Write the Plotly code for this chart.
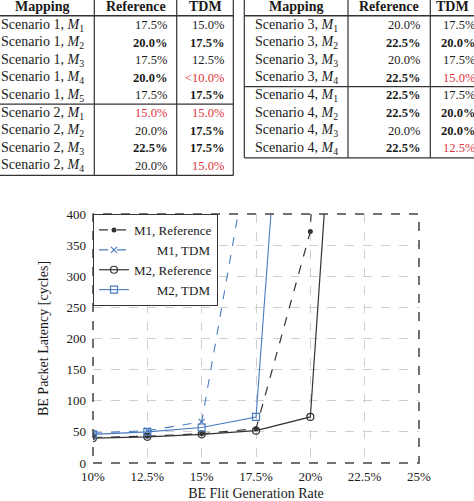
import plotly.graph_objects as go

# ---------------- data ----------------
rates = [10, 12.5, 15, 17.5, 20, 22.5, 25]
rate_labels = ["10%", "12.5%", "15%", "17.5%", "20%", "22.5%", "25%"]

m1_ref_x = [10, 12.5, 15, 17.5, 20, 22.5]
m1_ref_y = [41, 43, 47, 55, 372, 2500]
m1_tdm_x = [10, 12.5, 15, 17.5]
m1_tdm_y = [48, 52, 66, 565]
m2_ref_x = [10, 12.5, 15, 17.5, 20, 22.5]
m2_ref_y = [40, 42, 46, 52, 74, 1350]
m2_tdm_x = [10, 12.5, 15, 17.5, 20]
m2_tdm_y = [46, 50, 57, 74, 1260]

y_ticks = [0, 50, 100, 150, 200, 250, 300, 350, 400]

table_headers = ["Mapping", "Reference", "TDM"]

left_scen = [1, 1, 1, 1, 1, 2, 2, 2, 2]
left_map = [1, 2, 3, 4, 5, 1, 2, 3, 4]
left_ref = ["17.5%", "20.0%", "17.5%", "20.0%", "17.5%", "15.0%", "20.0%", "22.5%", "20.0%"]
left_ref_emph = ["", "b", "", "b", "", "r", "", "b", ""]
left_tdm = ["15.0%", "17.5%", "12.5%", "&lt;10.0%", "17.5%", "15.0%", "17.5%", "17.5%", "15.0%"]
left_tdm_emph = ["", "b", "", "r", "b", "r", "b", "b", "r"]

right_scen = [3, 3, 3, 3, 4, 4, 4, 4]
right_map = [1, 2, 3, 4, 1, 2, 3, 4]
right_ref = ["20.0%", "22.5%", "20.0%", "22.5%", "22.5%", "22.5%", "20.0%", "22.5%"]
right_ref_emph = ["", "b", "", "b", "b", "b", "", "b"]
right_tdm = ["17.5%", "20.0%", "17.5%", "15.0%", "17.5%", "20.0%", "20.0%", "12.5%"]
right_tdm_emph = ["", "b", "", "r", "", "b", "b", "r"]

# ---------------- layout helpers ----------------
W, H = 474, 501
L, R, T, B = 93, 55, 214, 38
PW, PH = W - L - R, H - T - B
FONT = "Liberation Serif"
RED = "#e2323c"
BLUE = "#4a7cc0"
DARK = "#333333"
TXT = "#1a1a1a"


def fx(x):
    return (x - L) / PW


def fy(y):
    return (H - B - y) / PH


fig = go.Figure()

fig.add_trace(go.Scatter(
    x=m1_ref_x, y=m1_ref_y, name="M1, Reference", mode="lines+markers",
    line=dict(color=DARK, width=1.2, dash="dash"),
    marker=dict(symbol="circle", size=5, color=DARK)))
fig.add_trace(go.Scatter(
    x=m1_tdm_x, y=m1_tdm_y, name="\u00a0" * 7 + "M1, TDM", mode="lines+markers",
    line=dict(color=BLUE, width=1.1, dash="dash"),
    marker=dict(symbol="x-thin", size=6, line=dict(color=BLUE, width=1.2))))
fig.add_trace(go.Scatter(
    x=m2_ref_x, y=m2_ref_y, name="M2, Reference", mode="lines+markers",
    line=dict(color=DARK, width=1.2),
    marker=dict(symbol="circle-open", size=7, color=DARK, line=dict(width=1.2))))
fig.add_trace(go.Scatter(
    x=m2_tdm_x, y=m2_tdm_y, name="\u00a0" * 7 + "M2, TDM", mode="lines+markers",
    line=dict(color=BLUE, width=1.1),
    marker=dict(symbol="square-open", size=7, color=BLUE, line=dict(width=1.2))))

shapes = []
annotations = []

# plot frame (dashed)
shapes.append(dict(type="rect", xref="paper", yref="paper", x0=0, x1=1, y0=0, y1=1,
                   line=dict(color="#444444", width=1.5, dash="dash"), layer="above"))


def line_px(x0, y0, x1, y1, w=1.2):
    shapes.append(dict(type="line", xref="paper", yref="paper",
                       x0=fx(x0), x1=fx(x1), y0=fy(y0), y1=fy(y1),
                       line=dict(color=DARK, width=w)))


def text_px(x, y, s, anchor, bold=False, color=TXT, size=14):
    if bold:
        s = "<b>" + s + "</b>"
    annotations.append(dict(xref="paper", yref="paper", x=fx(x), y=fy(y), text=s,
                            showarrow=False, xanchor=anchor, yanchor="middle",
                            borderpad=0, font=dict(family=FONT, size=size, color=color)))


def draw_table(x_left, x_div1, x_div2, x_right, sep_after, scen, maps, refs, ref_em,
               tdms, tdm_em):
    row0, dy = 25.0, 17.6
    n = len(scen)
    y_head_line = 15.7
    y_bottom = row0 + dy * (n - 1) + 9.6
    y_sep = row0 + dy * (sep_after - 0.5)
    for xv in (x_left, x_div1, x_div2, x_right):
        line_px(xv, -5, xv, y_bottom)
    line_px(x_left, y_head_line, x_right, y_head_line, 1.4)
    line_px(x_left, y_sep, x_right, y_sep)
    line_px(x_left, y_bottom, x_right, y_bottom)
    # headers
    text_px((x_left + x_div1) / 2, 6.5, table_headers[0], "center", bold=True)
    text_px((x_div1 + x_div2) / 2, 6.5, table_headers[1], "center", bold=True)
    text_px((x_div2 + x_right) / 2 if x_right < W else x_div2 + 22, 6.5,
            table_headers[2], "center", bold=True)
    for i in range(n):
        y = row0 + dy * i
        text_px(x_left + 9.5, y, "Scenario %d, <i>M</i><sub>%d</sub>" % (scen[i], maps[i]), "left")
        text_px(x_div2 - 9, y, refs[i], "right", bold=(ref_em[i] == "b"),
                color=RED if ref_em[i] == "r" else TXT, size=12.5)
        text_px(x_right - 8.5, y, tdms[i], "right", bold=(tdm_em[i] == "b"),
                color=RED if tdm_em[i] == "r" else TXT, size=12.5)


draw_table(-9.5, 94.3, 176.7, 233.3, 5, left_scen, left_map, left_ref, left_ref_emph,
           left_tdm, left_tdm_emph)
draw_table(244.3, 348.0, 430.3, 484.0, 4, right_scen, right_map, right_ref, right_ref_emph,
           right_tdm, right_tdm_emph)

fig.update_layout(
    width=W, height=H,
    margin=dict(l=L, r=R, t=T, b=B, pad=0, autoexpand=False),
    paper_bgcolor="white", plot_bgcolor="white",
    font=dict(family=FONT, size=13, color=TXT),
    showlegend=True,
    legend=dict(x=0, y=1, xanchor="left", yanchor="top", bgcolor="white",
                bordercolor=DARK, borderwidth=1, itemwidth=30,
                font=dict(family=FONT, size=13, color=TXT), tracegroupgap=0),
    shapes=shapes, annotations=annotations,
    xaxis=dict(range=[10, 25], tickvals=rates, ticktext=rate_labels, automargin=False,
               showgrid=True, gridcolor="#cfcfcf", griddash="dash", gridwidth=1,
               zeroline=False, showline=False, ticks="", ticklabelstandoff=4,
               tickfont=dict(family=FONT, size=13),
               title=dict(text="BE Flit Generation Rate", font=dict(family=FONT, size=14),
                          standoff=5)),
    yaxis=dict(range=[0, 400], tickvals=y_ticks, automargin=False,
               showgrid=True, gridcolor="#cfcfcf", griddash="dash", gridwidth=1,
               zeroline=False, showline=False, ticks="", ticklabelstandoff=6,
               tickfont=dict(family=FONT, size=13),
               title=dict(text="BE Packet Latency [cycles]", font=dict(family=FONT, size=14),
                          standoff=14)),
)

fig.write_html("out.html", config={"displayModeBar": False},
               post_script="document.body.style.margin='0';document.body.style.overflow='hidden';")
